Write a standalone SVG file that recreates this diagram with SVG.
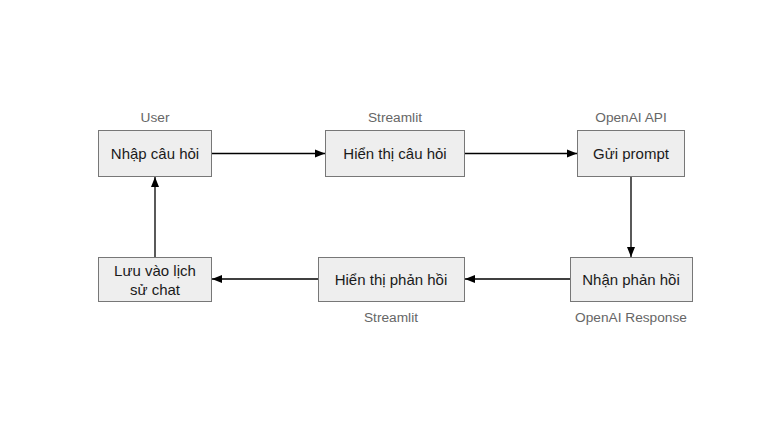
<svg xmlns="http://www.w3.org/2000/svg" width="768" height="433" viewBox="0 0 768 433">
<style>
.box{fill:#eeeeee;stroke:#777777;stroke-width:1}
.t{font-family:"Liberation Sans",Arial,sans-serif;font-size:15px;fill:#1a1a1a;text-anchor:middle;dominant-baseline:central}
.l{font-family:"Liberation Sans",Arial,sans-serif;font-size:13.7px;fill:#666666;text-anchor:middle;dominant-baseline:central}
.c{stroke:#000000;stroke-width:1.3;fill:none;marker-end:url(#ah)}
</style>
<defs>
<marker id="ah" viewBox="0 0 10 10" refX="10" refY="5" markerWidth="10" markerHeight="10" markerUnits="userSpaceOnUse" orient="auto">
<path d="M0,1 L10,5 L0,9 z" fill="#000000"/>
</marker>
</defs>
<rect width="768" height="433" fill="#ffffff"/>
<g id="connectors">
<line class="c" x1="211.5" y1="153.5" x2="325" y2="153.5"/>
<line class="c" x1="464.5" y1="153.5" x2="577" y2="153.5"/>
<line class="c" x1="631" y1="176.5" x2="631" y2="257"/>
<line class="c" x1="570" y1="279" x2="465" y2="279"/>
<line class="c" x1="318" y1="279" x2="212" y2="279"/>
<line class="c" x1="155" y1="257" x2="155" y2="177"/>
</g>
<g id="n1">
<text class="l" x="155" y="117">User</text>
<rect class="box" x="98.5" y="130.5" width="113" height="46"/>
<text class="t" x="155" y="153.5">Nhập câu hỏi</text>
</g>
<g id="n2">
<text class="l" x="395" y="117">Streamlit</text>
<rect class="box" x="325.5" y="130.5" width="139" height="46"/>
<text class="t" x="395" y="153.5">Hiển thị câu hỏi</text>
</g>
<g id="n3">
<text class="l" x="631" y="117">OpenAI API</text>
<rect class="box" x="577.5" y="130.5" width="107" height="46"/>
<text class="t" x="631" y="153.5">Gửi prompt</text>
</g>
<g id="n4">
<rect class="box" x="570.5" y="257.5" width="122" height="44"/>
<text class="t" x="631" y="279.5">Nhận phản hồi</text>
<text class="l" x="631" y="317">OpenAI Response</text>
</g>
<g id="n5">
<rect class="box" x="318.5" y="257.5" width="146" height="44"/>
<text class="t" x="391" y="279.5">Hiển thị phản hồi</text>
<text class="l" x="391" y="317">Streamlit</text>
</g>
<g id="n6">
<rect class="box" x="98.5" y="257.5" width="113" height="44"/>
<text class="t" x="155" y="270">Lưu vào lịch</text>
<text class="t" x="155" y="289">sử chat</text>
</g>
</svg>
